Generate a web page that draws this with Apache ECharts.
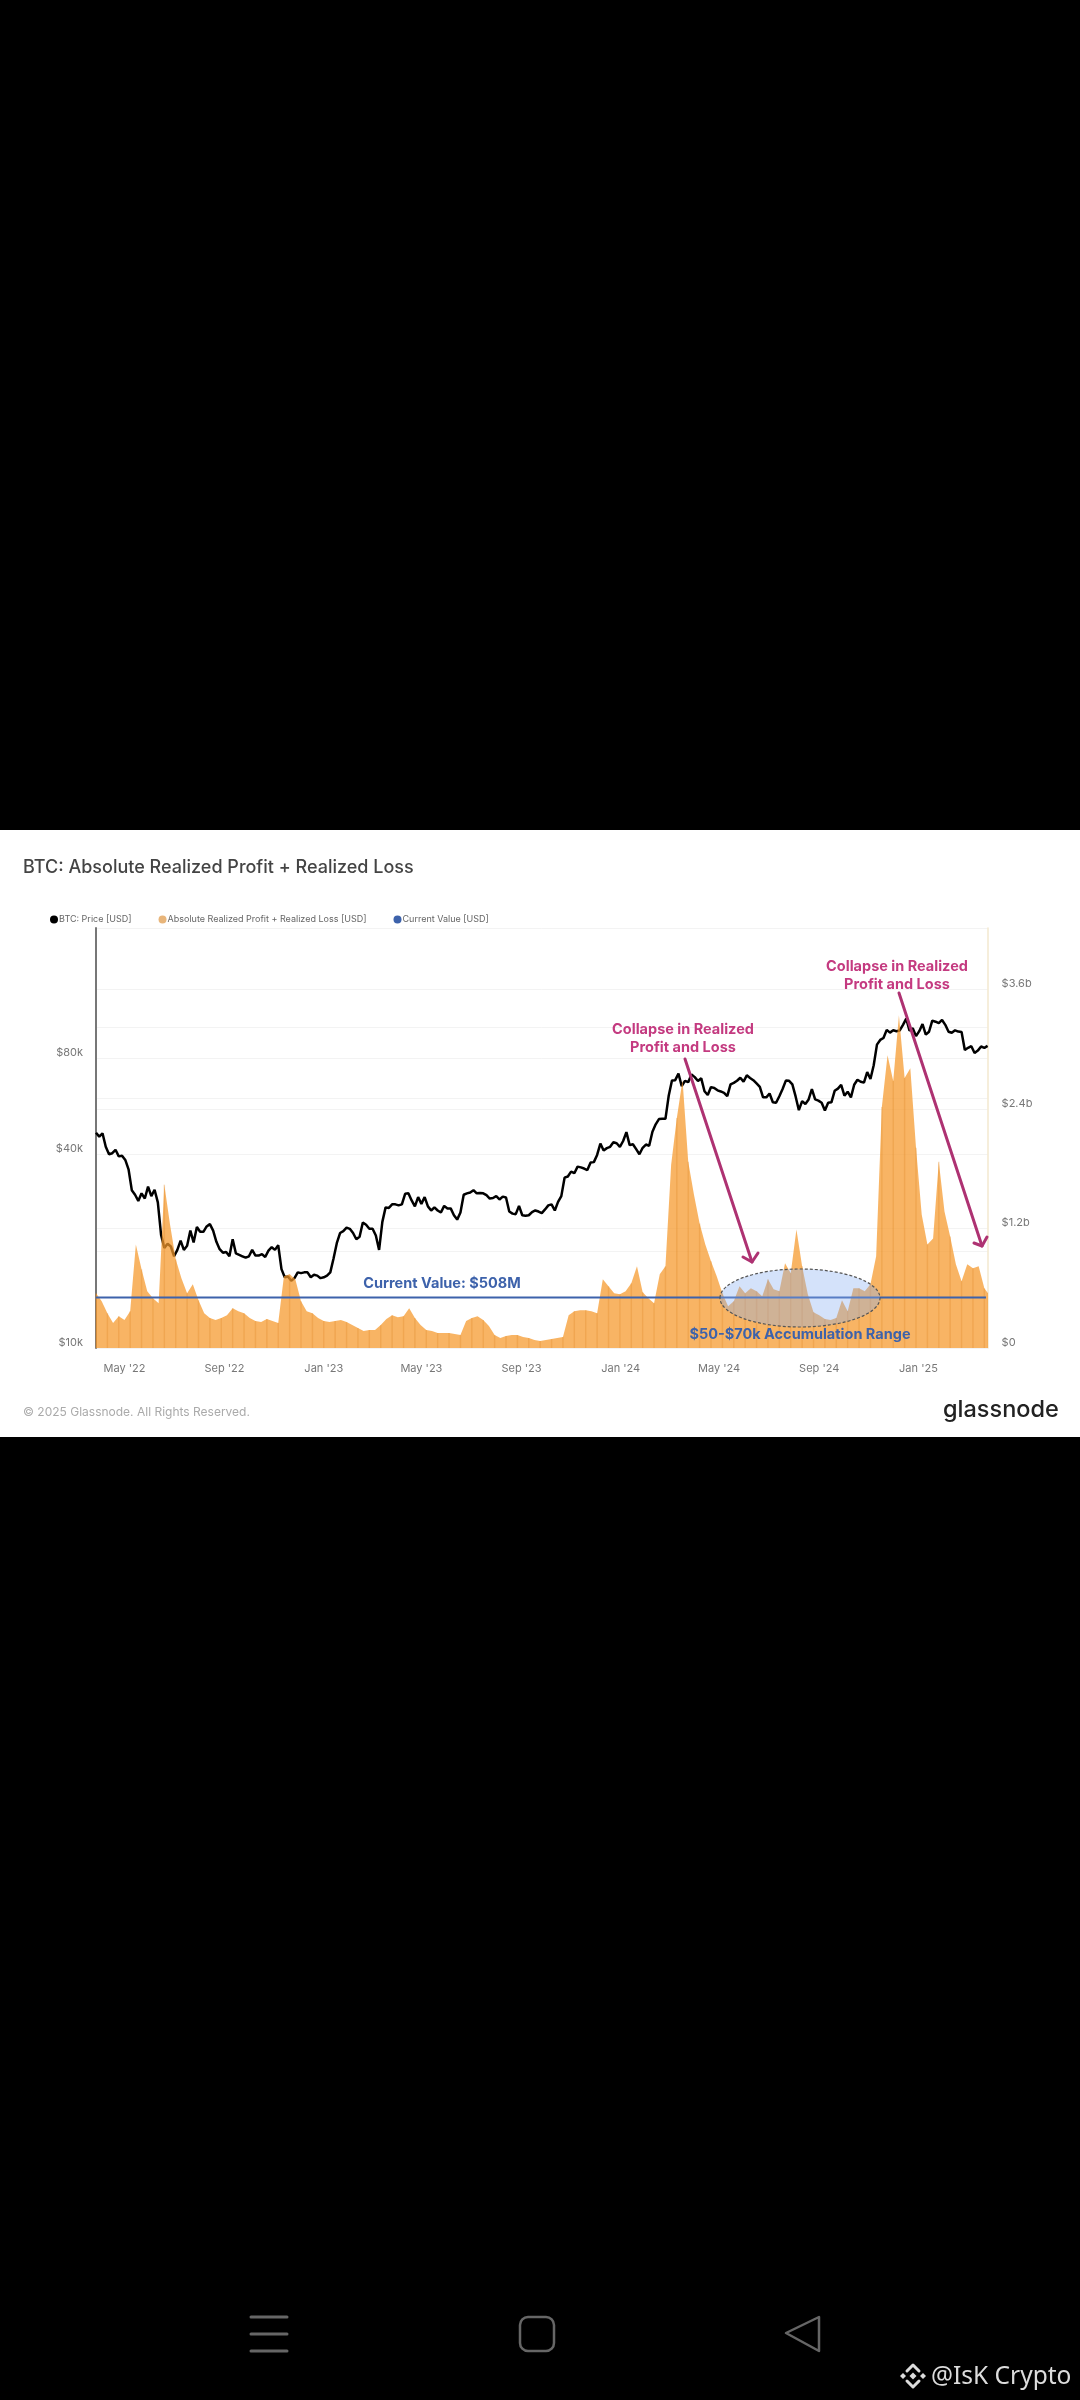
<!DOCTYPE html>
<html>
<head>
<meta charset="utf-8">
<style>
  html, body { margin: 0; background: #000; }
  #panel { position: absolute; left: 0; top: 830px; width: 1080px; height: 607px; background: #fff; }
  #chart { position: absolute; left: 0; top: 0; width: 1080px; height: 2400px; }
</style>
<script src="https://cdn.jsdelivr.net/npm/echarts@6/dist/echarts.min.js"></script>
</head>
<body>
<div id="panel"></div>
<div id="chart"></div>
<script>
const axisStart = '2022-03-27';
const axisEnd = '2025-03-27';
const monthTicks = ['2022-05-01', '2022-09-01', '2023-01-01', '2023-05-01', '2023-09-01', '2024-01-01', '2024-05-01', '2024-09-01', '2025-01-01'];
const monthLabels = ["May '22", "Sep '22", "Jan '23", "May '23", "Sep '23", "Jan '24", "May '24", "Sep '24", "Jan '25"];
const priceGrid = [10000, 20000, 40000, 60000, 80000, 100000];
const priceLabelled = [10000, 40000, 80000];
const currentValue = 0.508;

// BTC price in $k, one reading every 4 days from axisStart
const priceStepDays = 4;
const priceK = [
  46.8, 45.5, 46.6, 42.3, 40.1, 40.4, 41.4, 39.5, 39.7, 38.5, 36.0, 31.0, 30.0, 28.7, 30.3, 29.2, 31.8, 29.7, 31.1, 28.4,
  22.5, 20.5, 21.1, 20.7, 19.3, 20.2, 21.6, 20.2, 20.8, 23.2, 21.3, 23.8, 23.0, 23.0, 23.9, 24.3, 23.2, 21.4, 20.3, 19.8,
  19.9, 19.3, 21.8, 19.7, 19.5, 19.3, 19.1, 19.3, 20.2, 19.4, 19.4, 19.6, 19.2, 20.1, 20.6, 20.2, 20.9, 17.6, 16.6, 16.7,
  16.2, 16.5, 17.2, 17.1, 17.2, 17.2, 16.6, 16.9, 16.8, 16.5, 16.6, 16.8, 17.2, 19.0, 21.2, 22.8, 23.1, 23.7, 23.5, 22.8,
  21.8, 22.2, 24.6, 24.2, 23.5, 23.5, 22.4, 20.2, 24.7, 27.4, 27.3, 28.0, 28.0, 27.8, 28.0, 30.2, 30.3, 28.8, 27.6, 29.5,
  28.1, 29.5, 27.6, 26.8, 27.4, 26.8, 26.4, 27.7, 27.2, 27.2, 25.9, 25.1, 26.4, 30.0, 30.3, 30.5, 31.0, 30.3, 30.4, 30.3,
  29.9, 29.2, 29.3, 29.7, 29.0, 29.6, 29.4, 26.6, 26.2, 26.1, 27.7, 25.9, 25.8, 25.9, 26.5, 26.8, 26.6, 26.3, 27.0, 27.8,
  28.0, 26.8, 28.5, 29.7, 33.9, 34.2, 35.4, 35.0, 36.7, 36.5, 36.2, 35.8, 37.8, 37.9, 39.9, 43.3, 41.2, 41.9, 42.3, 43.7,
  43.4, 42.3, 44.1, 47.0, 42.8, 43.1, 41.6, 40.1, 42.0, 43.0, 42.6, 47.1, 49.7, 51.6, 51.7, 51.7, 61.0, 68.0, 68.2, 71.5,
  65.3, 67.9, 67.2, 71.0, 69.7, 67.8, 69.1, 63.0, 61.3, 64.9, 64.5, 63.4, 62.9, 62.3, 60.8, 66.2, 66.9, 67.9, 69.4, 67.5,
  70.6, 69.3, 68.2, 66.6, 65.0, 60.3, 60.3, 62.0, 58.2, 58.0, 60.8, 64.0, 68.0, 67.9, 66.2, 60.7, 55.0, 58.7, 57.5, 59.4,
  64.0, 59.4, 58.9, 58.0, 54.9, 58.0, 58.2, 63.2, 64.2, 65.9, 61.0, 62.8, 60.3, 66.0, 68.4, 67.4, 67.0, 72.3, 68.8, 75.9,
  88.0, 91.0, 92.3, 97.8, 95.9, 97.5, 96.9, 97.4, 101.4, 106.0, 97.2, 99.0, 93.5, 96.9, 102.0, 94.5, 96.5, 104.5, 103.7, 102.6,
  105.0, 101.4, 96.5, 95.8, 97.5, 96.6, 96.3, 84.7, 86.0, 87.0, 82.9, 84.3, 86.8, 86.0, 87.2
];

// Absolute realized profit + loss in $b, one reading every 7 days from axisStart
const realizedStepDays = 7;
const realizedB = [
  0.55, 0.47, 0.35, 0.25, 0.32, 0.28, 0.37, 1.04, 0.79, 0.57, 0.50, 0.45, 1.64, 1.24, 0.89, 0.70, 0.55, 0.64, 0.48, 0.35,
  0.30, 0.28, 0.30, 0.33, 0.40, 0.37, 0.35, 0.30, 0.27, 0.26, 0.29, 0.27, 0.25, 0.72, 0.74, 0.69, 0.47, 0.37, 0.35, 0.30,
  0.27, 0.26, 0.27, 0.28, 0.26, 0.23, 0.20, 0.17, 0.18, 0.18, 0.23, 0.29, 0.33, 0.31, 0.32, 0.40, 0.30, 0.23, 0.18, 0.17,
  0.15, 0.15, 0.15, 0.14, 0.13, 0.27, 0.30, 0.32, 0.28, 0.22, 0.13, 0.10, 0.12, 0.13, 0.13, 0.11, 0.10, 0.08, 0.07, 0.08,
  0.09, 0.10, 0.11, 0.33, 0.37, 0.38, 0.38, 0.37, 0.35, 0.69, 0.62, 0.55, 0.54, 0.57, 0.65, 0.82, 0.56, 0.50, 0.45, 0.74,
  0.82, 1.84, 2.31, 2.69, 1.87, 1.54, 1.25, 1.04, 0.87, 0.72, 0.55, 0.42, 0.47, 0.62, 0.55, 0.60, 0.57, 0.52, 0.69, 0.59,
  0.57, 0.85, 0.75, 1.19, 0.82, 0.54, 0.36, 0.33, 0.29, 0.28, 0.30, 0.48, 0.37, 0.60, 0.60, 0.57, 0.64, 0.92, 2.42, 2.94,
  2.68, 3.34, 2.71, 2.81, 2.01, 1.34, 1.04, 1.10, 1.87, 1.37, 1.12, 0.84, 0.67, 0.84, 0.80, 0.82, 0.60, 0.52, 0.50
];

const DAY = 86400000;
const startMs = Date.parse(axisStart);
const endMs = Date.parse(axisEnd);
const monthMs = monthTicks.map(d => Date.parse(d));
const priceData = priceK.map((v, i) => [startMs + i * priceStepDays * DAY, v * 1000]);
const realizedData = realizedB.map((v, i) => [startMs + i * realizedStepDays * DAY, v]);
const stripeData = realizedData.filter((d, i) => i % 2 === 0 && d[0] <= endMs);

const font = 'Inter';
const pink = '#c43a80';
const arrowPink = '#ae3272';
const blue = '#3d62ab';
const nav = '#666';
const mark = '#dcdcdc';

function text(x, y, str, size, color, weight, align, lineHeight) {
  return {
    type: 'text', z: 60, x: x, y: y,
    style: {
      text: str, fontFamily: font, fontSize: size, fill: color, fontWeight: weight || 400,
      align: align || 'left', verticalAlign: 'middle', lineHeight: lineHeight
    }
  };
}
function stroke(points, color, width) {
  return {
    type: 'polyline', z: 55,
    shape: { points: points },
    style: { stroke: color, lineWidth: width, fill: null, lineCap: 'round', lineJoin: 'round' }
  };
}
function diamond(cx, cy, r) {
  return {
    type: 'polygon', z: 60,
    shape: { points: [[cx - r, cy], [cx, cy - r], [cx + r, cy], [cx, cy + r]] },
    style: { fill: mark }
  };
}

const graphics = [
  text(23, 868, 'BTC: Absolute Realized Profit + Realized Loss', 18, '#444', 500),
  text(23, 1412, '\u00a9 2025 Glassnode. All Rights Reserved.', 12, '#aaa'),
  text(943, 1410, 'glassnode', 23.5, '#222', 500),

  // accumulation ellipse sits over the bars
  {
    type: 'ellipse', z: 50,
    shape: { cx: 800, cy: 1298, rx: 80, ry: 29 },
    style: { fill: 'rgba(135,175,240,0.36)', stroke: '#555', lineWidth: 1.2, lineDash: [3, 2] }
  },

  stroke([[685, 1059], [752, 1262]], arrowPink, 3),
  stroke([[743, 1257], [752, 1262], [758, 1253]], arrowPink, 3),
  stroke([[899, 993], [982, 1246]], arrowPink, 3),
  stroke([[974, 1243], [982, 1246], [987, 1237]], arrowPink, 3),

  text(683, 1039, 'Collapse in Realized\nProfit and Loss', 14.5, pink, 700, 'center', 18),
  text(897, 976, 'Collapse in Realized\nProfit and Loss', 14.5, pink, 700, 'center', 18),
  text(442, 1284, 'Current Value: $508M', 14.5, blue, 700, 'center'),
  text(800, 1335, '$50-$70k Accumulation Range', 14.5, blue, 700, 'center'),

  // phone nav bar
  stroke([[251, 2317], [287, 2317]], nav, 3),
  stroke([[251, 2334], [287, 2334]], nav, 3),
  stroke([[251, 2351], [287, 2351]], nav, 3),
  {
    type: 'rect', z: 60,
    shape: { x: 520, y: 2317, width: 34, height: 34, r: 8 },
    style: { stroke: nav, lineWidth: 2.5, fill: null }
  },
  {
    type: 'polygon', z: 60,
    shape: { points: [[786, 2333], [819, 2317], [819, 2351]] },
    style: { stroke: nav, lineWidth: 2.5, fill: null, lineJoin: 'round' }
  },

  // watermark
  diamond(913, 2376, 3.5),
  diamond(903, 2376, 3),
  diamond(923, 2376, 3),
  stroke([[907, 2371], [913, 2365], [919, 2371]], mark, 3),
  stroke([[907, 2381], [913, 2387], [919, 2381]], mark, 3),
  {
    type: 'text', z: 60, x: 931, y: 2377,
    style: { text: '@IsK Crypto', fontFamily: 'Noto Sans', fontSize: 24.5, fill: mark, verticalAlign: 'middle' }
  }
];

const chart = echarts.init(document.getElementById('chart'), null, { renderer: 'canvas' });
chart.setOption({
  animation: false,
  backgroundColor: 'transparent',
  textStyle: { fontFamily: font },
  legend: {
    left: 45, top: 910, itemWidth: 8, itemHeight: 8, itemGap: 27,
    textStyle: { fontFamily: font, fontSize: 9, color: '#666', padding: [0, 0, 0, -4] },
    data: [
      { name: 'BTC: Price [USD]', icon: 'circle', itemStyle: { color: '#000' } },
      { name: 'Absolute Realized Profit + Realized Loss [USD]', icon: 'circle', itemStyle: { color: '#e8b57a' } },
      { name: 'Current Value [USD]', icon: 'circle', itemStyle: { color: '#3d62ab' } }
    ]
  },
  grid: { left: 96, right: 92.4, top: 928, height: 420 },
  xAxis: {
    type: 'value', min: startMs, max: endMs,
    axisLine: { show: false },
    axisTick: { show: false },
    splitLine: { show: false },
    axisLabel: {
      customValues: monthMs, margin: 15, fontFamily: font, fontSize: 11, color: '#777', hideOverlap: false,
      formatter: v => monthLabels[monthMs.indexOf(v)] || ''
    }
  },
  yAxis: [
    {
      type: 'log', logBase: 2, min: 10000, max: 203000, position: 'left',
      axisLine: { show: true, onZero: false, lineStyle: { color: '#777', width: 2 } },
      axisTick: { show: false },
      axisLabel: { show: false },
      splitLine: { show: false }
    },
    {
      type: 'value', min: 0, max: 4.217, interval: 1.2, position: 'right',
      axisLine: { show: true, lineStyle: { color: '#f3e8cf', width: 1.5 } },
      axisTick: { show: false },
      splitLine: { lineStyle: { color: '#f3f3f3', width: 1 } },
      axisLabel: {
        margin: 14, fontFamily: font, fontSize: 11, color: '#777', verticalAlign: 'bottom',
        formatter: v => {
          if (v === 0) return '$0';
          return Math.abs(v / 1.2 - Math.round(v / 1.2)) < 0.001 ? '$' + v.toFixed(1) + 'b' : '';
        }
      }
    }
  ],
  series: [
    {
      name: 'BTC: Price [USD]', type: 'line', yAxisIndex: 0, z: 2, data: priceData,
      showSymbol: false, lineStyle: { color: '#000', width: 2.5 }, itemStyle: { color: '#000' },
      markLine: {
        silent: true, symbol: 'none', z: 0,
        lineStyle: { color: '#f3f3f3', width: 1, type: 'solid' },
        label: {
          position: 'start', distance: 13, fontFamily: font, fontSize: 11, color: '#777', verticalAlign: 'bottom',
          formatter: p => priceLabelled.includes(p.value) ? '$' + p.value / 1000 + 'k' : ''
        },
        data: priceGrid.map(v => ({ yAxis: v }))
      }
    },
    {
      name: 'Absolute Realized Profit + Realized Loss [USD]', type: 'line', yAxisIndex: 1, z: 3, data: realizedData,
      showSymbol: false, lineStyle: { width: 0 }, itemStyle: { color: 'rgb(245,152,42)' },
      areaStyle: { color: 'rgb(245,152,42)', opacity: 0.73 }
    },
    {
      name: 'stripes', type: 'bar', yAxisIndex: 1, z: 3, data: stripeData,
      barWidth: 1.5, itemStyle: { color: 'rgba(222,135,40,0.3)' }
    },
    {
      name: 'Current Value [USD]', type: 'line', yAxisIndex: 1, z: 4,
      data: [[startMs, currentValue], [endMs - 2 * DAY, currentValue]],
      showSymbol: false, lineStyle: { color: blue, width: 2 }, itemStyle: { color: blue }
    }
  ],
  graphic: { elements: graphics }
});
</script>
</body>
</html>
